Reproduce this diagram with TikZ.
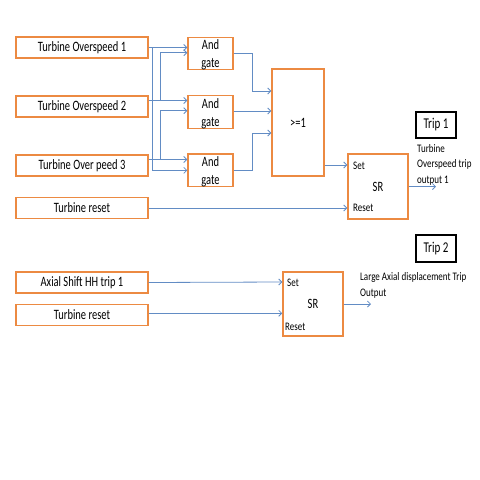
\documentclass[tikz,border=0pt]{standalone}
\usepackage{fontspec}
\usepackage{graphicx}
\setmainfont{Carlito}
\usetikzlibrary{arrows.meta,calc}
\definecolor{obox}{RGB}{236,138,66}
\definecolor{wire}{RGB}{98,140,196}
\newcommand\vbig[1]{\scalebox{1}[1.36]{#1}}
\newcommand\vsml[1]{\scalebox{1}[1.28]{#1}}
\begin{document}
\begin{tikzpicture}[x=1pt,y=-1pt,
  inbox/.style={draw=obox,line width=1.4pt,minimum width=132pt,minimum height=21pt,inner sep=0pt,font=\fontsize{10.5}{12}\selectfont},
  gatebox/.style={draw=obox,line width=1.4pt,minimum width=45pt,minimum height=32.5pt,inner sep=0pt},
  gatetext/.style={inner sep=0pt,align=center,font=\fontsize{10.5}{18}\selectfont},
  bigbox/.style={draw=obox,line width=1.4pt,inner sep=0pt,font=\fontsize{10.5}{12}\selectfont},
  tripbox/.style={draw=black,line width=1.3pt,minimum width=40pt,minimum height=26pt,inner sep=0pt,font=\fontsize{11}{12}\selectfont},
  wireline/.style={draw=wire,line width=0.8pt},
  arr/.style={wireline,-{Straight Barb[length=3pt,width=6pt]}},
  small/.style={font=\fontsize{9}{15.5}\selectfont,inner sep=0pt,align=left}
]
\useasboundingbox (0,0) rectangle (480,480);

% input boxes
\node[inbox] (in1) at (82,47.5) {\vbig{Turbine Overspeed 1}};
\node[inbox] (in2) at (82,106.5) {\vbig{Turbine Overspeed 2}};
\node[inbox] (in3) at (82,165.5) {\vbig{Turbine Over peed 3}};
\node[inbox] (rst1) at (82,208) {\vbig{Turbine reset}};
\node[inbox] (ax) at (82,282.5) {\vbig{Axial Shift HH trip 1}};
\node[inbox] (rst2) at (82,315) {\vbig{Turbine reset}};

% gates
\node[gatebox] (g1) at (210.5,53.5) {};
\node[gatebox] (g2) at (210.5,112) {};
\node[gatebox] (g3) at (210.5,170.4) {};
\node[gatetext] (t1) at ($(g1.center)+(0,1.5)$) {\vbig{And}\\\vbig{gate}};
\node[gatetext] (t2) at ($(g2.center)+(0,1.5)$) {\vbig{And}\\\vbig{gate}};
\node[gatetext] (t3) at ($(g3.center)+(0,1.5)$) {\vbig{And}\\\vbig{gate}};

\node[bigbox,minimum width=52pt,minimum height=107pt] (or) at (298,122.5) {\vbig{>=1}};

\node[bigbox,minimum width=60pt,minimum height=65pt] (sr1) at (378,186.5) {\vbig{SR}};
\node[bigbox,minimum width=60pt,minimum height=64pt] (sr2) at (313,304) {\vbig{SR}};

\node[small,anchor=west] (set1) at (353,166) {\vsml{Set}};
\node[small,anchor=west] (res1) at (353,208) {\vsml{Reset}};
\node[small,anchor=west] (set2) at (287,283) {\vsml{Set}};
\node[small,anchor=west] (res2) at (285,327) {\vsml{Reset}};

\node[tripbox] (trip1) at (436,125) {\vbig{Trip 1}};
\node[tripbox,minimum height=27pt] (trip2) at (436,248.5) {\vbig{Trip 2}};

\node[small,anchor=north west] (lab1) at (417,144) {\vsml{Turbine}\\\vsml{Overspeed trip}\\\vsml{output 1}};
\node[small,anchor=north west] (lab2) at (360,272.5) {\vsml{Large Axial displacement Trip}\\\vsml{Output}};

% wiring into gates
\coordinate (in2o) at ($(in2.east)+(0,-6)$);
\coordinate (in3o) at ($(in3.east)+(0,-6)$);
\draw[arr] (in1.east) -- (in1.east -| g1.west);
\draw[arr] (in1.east) -| (152,0 |- g3.west) -- (g3.west);
\draw[arr] (in2o) -- (in2o -| g2.west);
\draw[arr] (in2o -| 160,0) |- ($(g1.west)+(0,-0.8)$);
\draw[arr] (in3o) -- (in3o -| g3.west);
\draw[arr] (in3o -| 160,0) |- ($(g2.west)+(0,-1.3)$);

% gates to >=1
\draw[arr] (g1.east) -| (252,0 |- g1.east) |- ($(or.west)+(0,-31.5)$);
\draw[arr] ($(g2.east)+(0,-1)$) -- ($(or.west)+(0,-11.5)$);
\draw[arr] (g3.east) -| (252,0 |- g3.east) |- ($(or.west)+(0,10.5)$);

% to SR 1
\draw[arr] ($(or.east)+(0,42.5)$) -- ($(sr1.west)+(0,-21.5)$);
\draw[arr] (rst1.east) -- (rst1.east -| sr1.west);
\coordinate (o1) at (436,186.5);
\draw[arr] (sr1.east) -- (o1);

% SR 2
\draw[arr] (ax.east) -- ($(sr2.west)+(0,-22)$);
\draw[arr] ($(rst2.east)+(0,-1.7)$) -- ($(sr2.west)+(0,9.3)$);
\coordinate (o2) at (371,304);
\draw[arr] (sr2.east) -- (o2);
\end{tikzpicture}
\end{document}
